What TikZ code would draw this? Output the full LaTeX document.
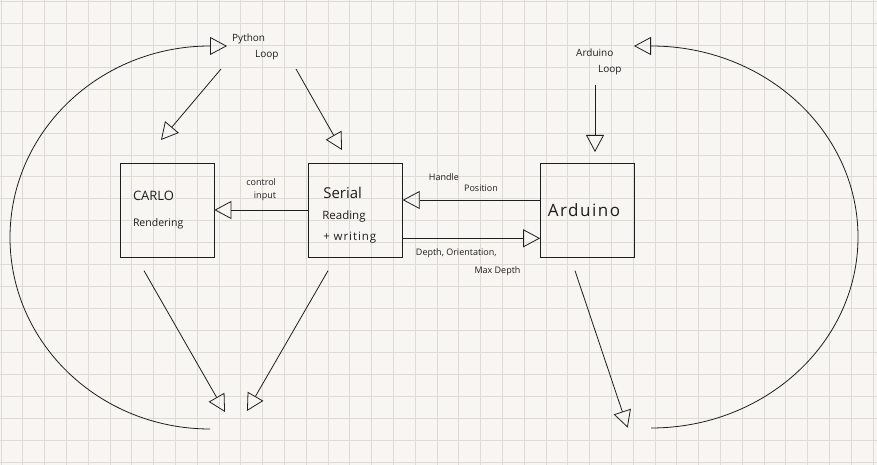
\documentclass[tikz,border=0pt]{standalone}
\usepackage{fontspec}
\setmainfont{Open Sans}
\usetikzlibrary{arrows.meta}
\definecolor{paper}{HTML}{F8F6F2}
\definecolor{gridc}{HTML}{DEDAD4}
\definecolor{ink}{HTML}{1E1E1E}
\begin{document}
\begin{tikzpicture}[x=1pt,y=1pt,
  inkline/.style={draw=ink, line width=0.8pt},
  flow/.style={inkline, -{Triangle[open,length=17pt,width=18pt]}},
  boxnode/.style={inkline, minimum width=94pt, minimum height=94pt, inner sep=0pt, align=left, text=ink},
  lbl/.style={inner sep=0pt, text=ink, font=\fontsize{9}{13.3}\selectfont},
  toplbl/.style={inner sep=0pt, text=ink, anchor=north west, align=left, font=\fontsize{10}{16.2}\selectfont},
]
% paper and grid
\fill[paper] (0,0) rectangle (877,465);
\useasboundingbox (0,0) rectangle (877,465);
\foreach \k in {0,...,40} \draw[gridc, line width=0.7pt] ({1+21.8*\k},0) -- ({1+21.8*\k},465);
\foreach \k in {0,...,21} \draw[gridc, line width=0.7pt] (0,{463.6-21.93*\k}) -- (877,{463.6-21.93*\k});

% boxes
\node[boxnode, text width=68pt, font=\fontsize{10.5}{26.7}\selectfont] (carlo) at (167,255)
  {{\fontsize{13}{13}\selectfont CARLO}\\Rendering};
\node[boxnode, text width=68pt, font=\fontsize{11.5}{21}\selectfont] (serial) at (355.3,255)
  {\rule{0pt}{22pt}\hspace*{2pt}{\fontsize{15}{15}\selectfont Serial}\\\hspace*{1pt}Reading\\\hspace*{2pt}{\addfontfeature{LetterSpace=8}+ writing}};
\node[boxnode, font=\fontsize{17}{17}\selectfont] (arduino) at (587.5,255)
  {\hspace*{-7pt}{\addfontfeature{LetterSpace=9}Arduino}};

% loop labels
\node[toplbl] (pyloop) at (232,431.5) {Python\\\hspace*{23pt}Loop};
\node[toplbl] (ardloop) at (576,416) {Arduino\\\hspace*{22pt}Loop};

% free ends
\coordinate (pyA) at (221,396);
\coordinate (carloIn) at (161,325);
\coordinate (pyB) at (296,396);
\coordinate (serialIn) at (342,315);
\coordinate (ardA) at (595,380);
\coordinate (arduinoIn) at (595,313);
\coordinate (carloOut) at (144,194.3);
\coordinate (carloTip) at (225,53);
\coordinate (serialOut) at (328,194.3);
\coordinate (serialTip) at (247,54);
\coordinate (arduinoOut) at (575,194.3);
\coordinate (arduinoTip) at (627.7,37.3);
\coordinate (loopL) at (210,36);
\coordinate (pyTip) at (227,419);
\coordinate (loopR) at (651,37);
\coordinate (ardTip) at (634,419);

% loop arrows
\draw[flow] (pyA) -- (carloIn);
\draw[flow] (pyB) -- (serialIn);
\draw[flow] (ardA) -- (arduinoIn);
\draw[flow] (carloOut) -- (carloTip);
\draw[flow] (serialOut) -- (serialTip);
\draw[flow] (arduinoOut) -- (arduinoTip);
\draw[flow] (loopL) arc[start angle=270, end angle=90, x radius=200, y radius=191.5] -- (pyTip);
\draw[flow] (loopR) arc[start angle=-90, end angle=90, x radius=207, y radius=191] -- (ardTip);

% data flow
\draw[flow] (serial.west) -- (carlo.east)
  node[lbl, midway, above=9pt, align=right] (ctrl) {control\\input};
\draw[flow] ([yshift=10pt]arduino.west) -- ([yshift=10pt]serial.east)
  node[lbl, pos=0.43, above=8.5pt] (hpos) {Position}
  node[lbl, pos=0.70, above=19pt] (hdl) {Handle};
\draw[flow] ([yshift=-28.3pt]serial.east) -- ([yshift=-28.3pt]arduino.west)
  node[lbl, pos=0.39, below=10pt] (dep) {Depth, Orientation,}
  node[lbl, pos=0.69, below=28pt] (mdep) {Max Depth};
\end{tikzpicture}
\end{document}
